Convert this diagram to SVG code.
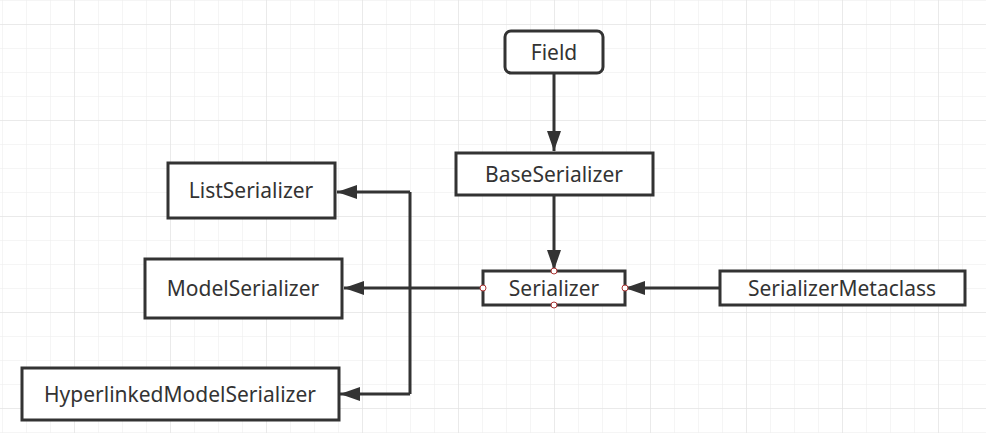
<svg xmlns="http://www.w3.org/2000/svg" width="986" height="433" viewBox="0 0 986 433">
<defs>
<pattern id="g" width="24" height="24" patternUnits="userSpaceOnUse" x="2" y="0"><path d="M0 0H24M0 0V24" fill="none" stroke="#ececec" stroke-width="1"/></pattern>
<pattern id="G" width="96" height="96" patternUnits="userSpaceOnUse" x="74" y="24"><path d="M0 0H96M0 0V96" fill="none" stroke="#e0e0e0" stroke-width="1"/></pattern>
<marker id="A" viewBox="0 0 20 14" refX="20" refY="7" markerWidth="20" markerHeight="14" orient="auto" markerUnits="userSpaceOnUse"><path d="M0 0L20 7L0 14Z" fill="#333"/></marker>
</defs>
<style>
.n{fill:#fff;stroke:#333;stroke-width:3}
.t{font-family:"Noto Sans","Liberation Sans",sans-serif;font-size:21px;fill:#333;text-anchor:middle;dominant-baseline:central}
.c{fill:none;stroke:#333;stroke-width:3}
.p{fill:#fff;stroke:#a33;stroke-width:1}
</style>
<rect width="986" height="433" fill="#fff"/>
<rect width="986" height="433" fill="url(#g)"/>
<rect width="986" height="433" fill="url(#G)"/>
<g id="connectors">
<path class="c" d="M554 73V151" marker-end="url(#A)"/>
<path class="c" d="M554 195V270" marker-end="url(#A)"/>
<path class="c" d="M720 288H625" marker-end="url(#A)"/>
<path class="c" d="M483 288H344" marker-end="url(#A)"/>
<path class="c" d="M410 192V394"/>
<path class="c" d="M410 192H337" marker-end="url(#A)"/>
<path class="c" d="M410 394H340" marker-end="url(#A)"/>
</g>
<g id="field"><rect class="n" x="505" y="31" width="98" height="42" rx="6"/><text class="t" x="554" y="52">Field</text></g>
<g id="base"><rect class="n" x="456" y="153" width="197" height="42"/><text class="t" x="554" y="174">BaseSerializer</text></g>
<g id="serializer"><rect class="n" x="483" y="271" width="142" height="34"/><text class="t" x="554" y="288">Serializer</text>
<circle class="p" cx="554" cy="271" r="3"/><circle class="p" cx="554" cy="305" r="3"/><circle class="p" cx="483" cy="288" r="3"/><circle class="p" cx="625" cy="288" r="3"/></g>
<g id="meta"><rect class="n" x="720" y="271" width="245" height="34"/><text class="t" x="842" y="288">SerializerMetaclass</text></g>
<g id="list"><rect class="n" x="168" y="163" width="167" height="55"/><text class="t" x="251" y="190">ListSerializer</text></g>
<g id="model"><rect class="n" x="145" y="259" width="197" height="59"/><text class="t" x="243" y="288">ModelSerializer</text></g>
<g id="hyper"><rect class="n" x="22" y="368" width="317" height="52"/><text class="t" x="180" y="394">HyperlinkedModelSerializer</text></g>
</svg>
